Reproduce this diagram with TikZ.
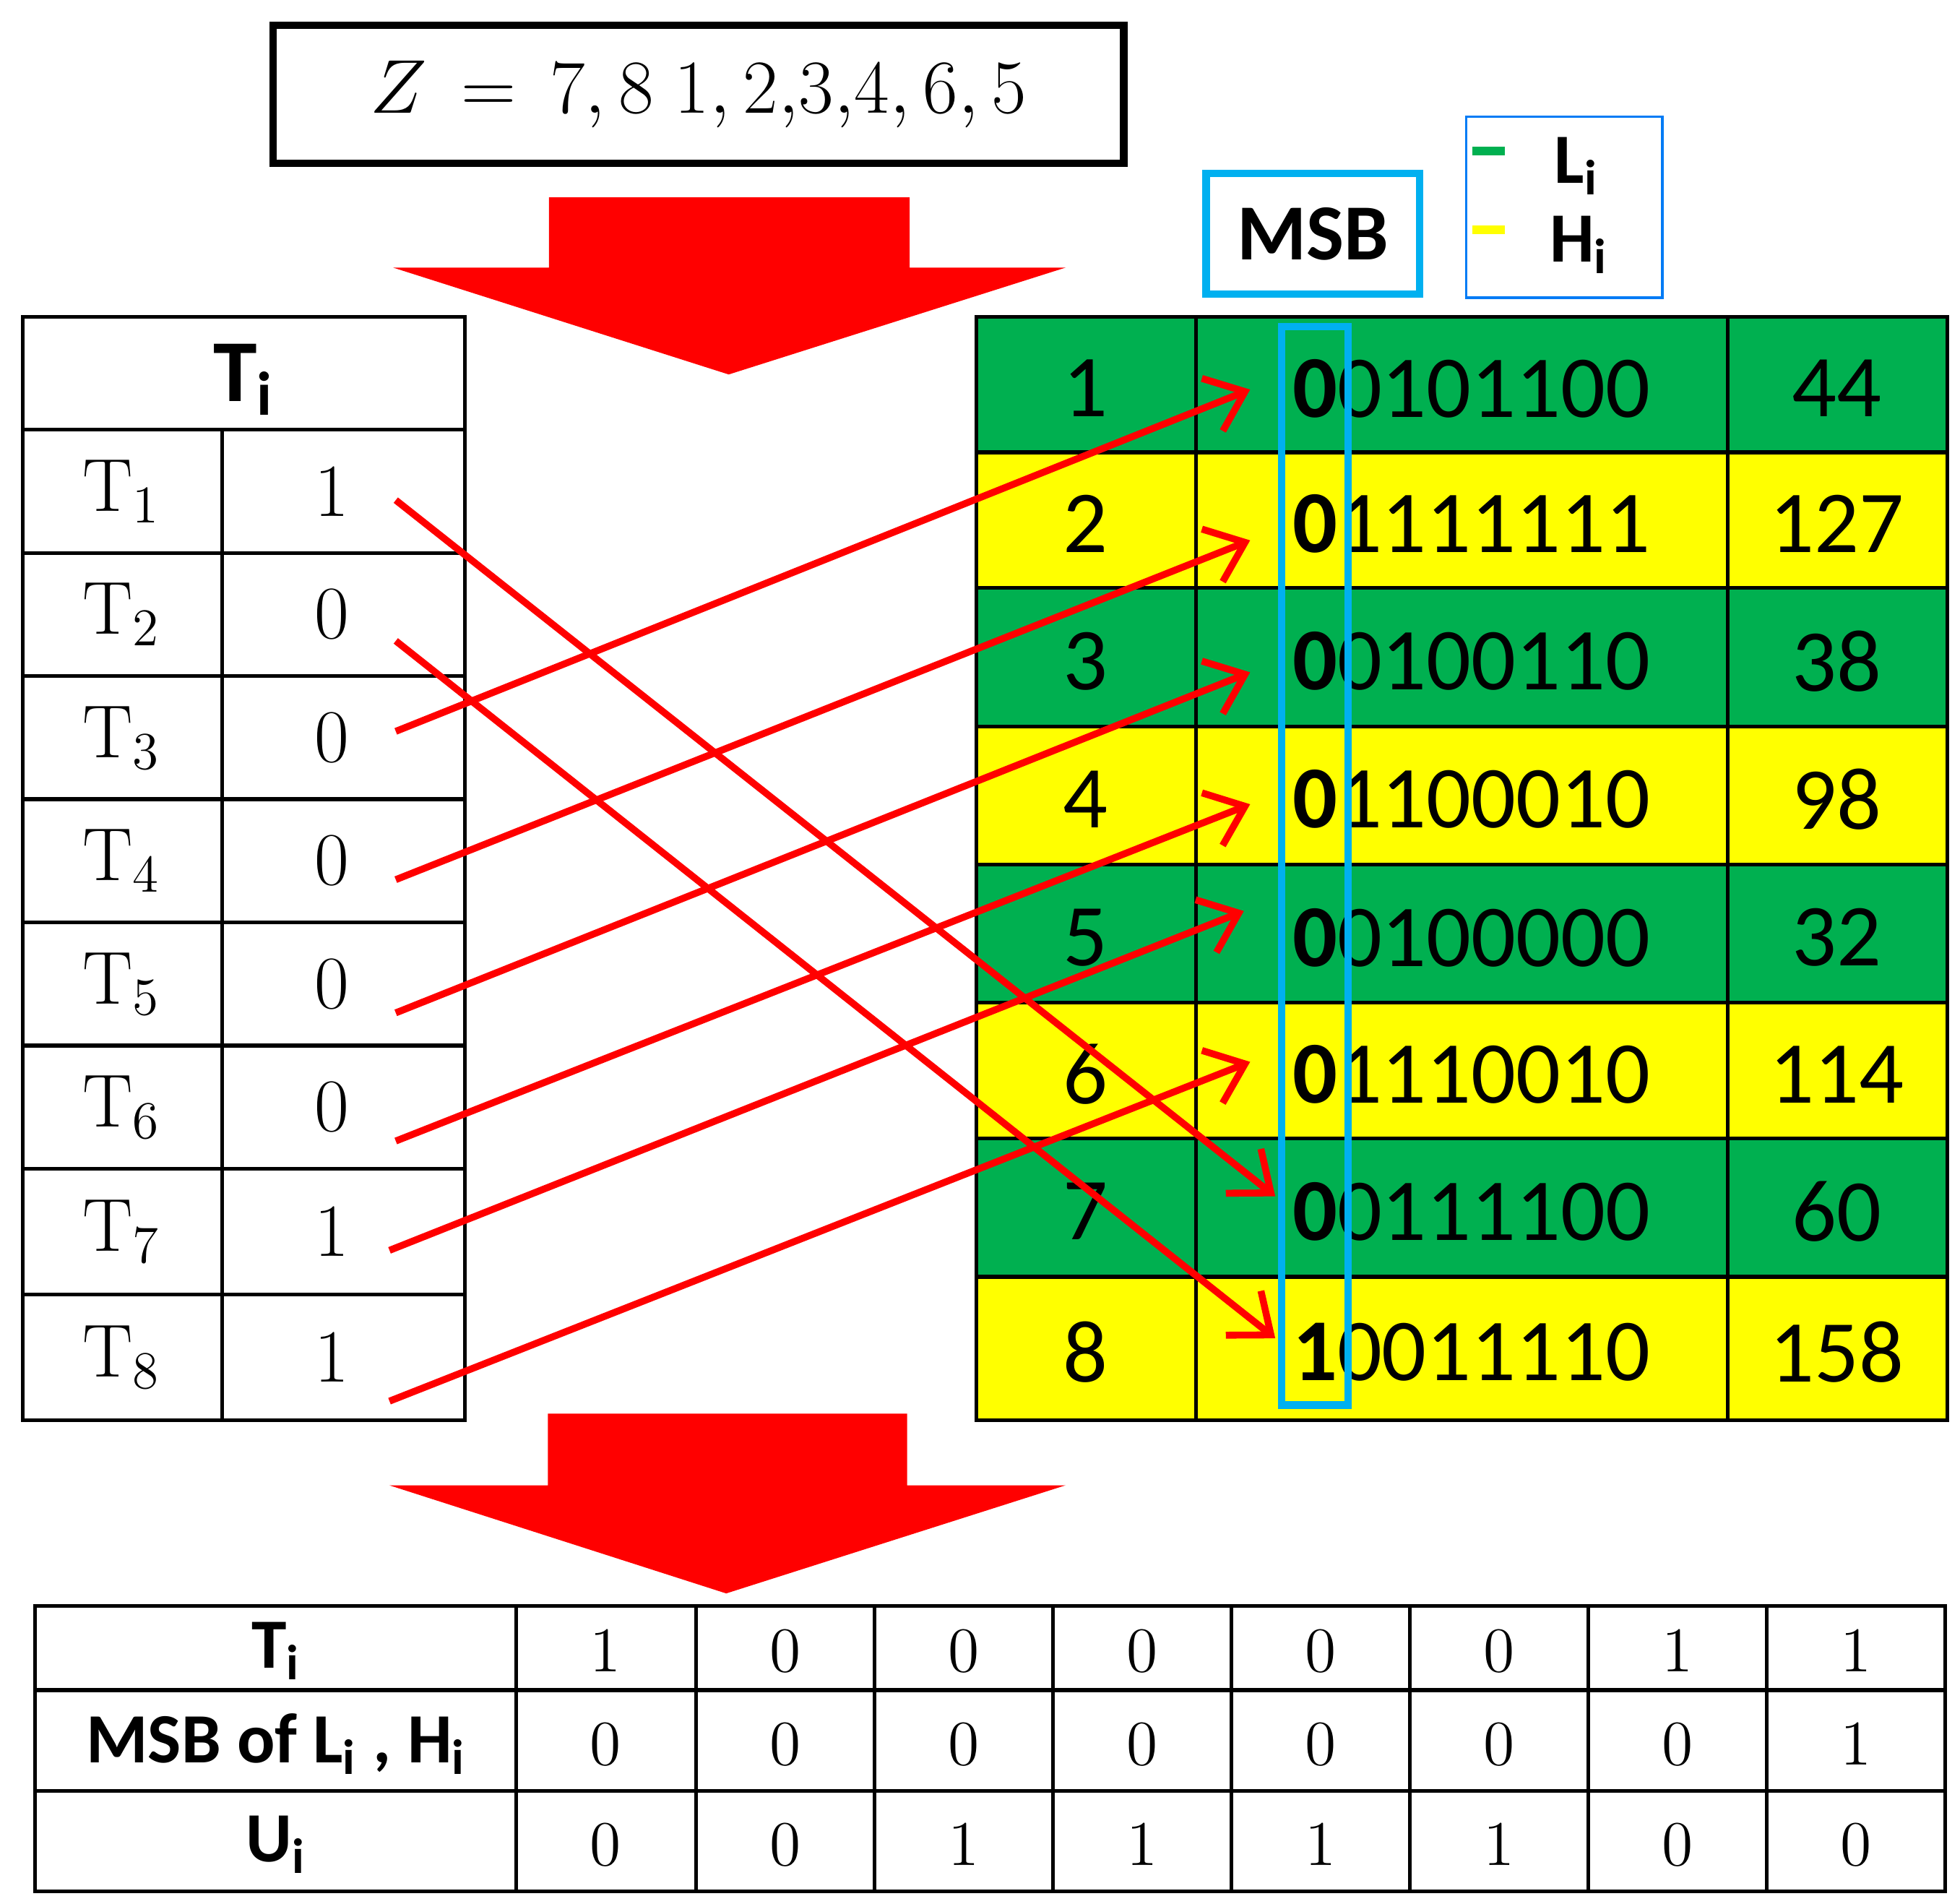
\documentclass[tikz,border=0pt]{standalone}
\usepackage{fontspec}
\setsansfont{Carlito}
\usetikzlibrary{arrows.meta}
\definecolor{gr}{RGB}{0,176,80}
\definecolor{ye}{RGB}{255,255,0}
\definecolor{cy}{RGB}{0,176,240}
\definecolor{rd}{RGB}{255,0,0}
\tikzset{
 grid/.style={line width=0.3mm,draw=black},
 rarrow/.style={draw=rd,line width=0.55mm,-{Straight Barb[length=2.8mm,width=4.5mm,line width=0.55mm]}},
 big/.style={font=\sffamily\fontsize{20}{24}\selectfont},
 lt/.style={font=\fontsize{17}{20}\selectfont},
 bt/.style={font=\fontsize{15}{18}\selectfont},
 bl/.style={font=\sffamily\bfseries\fontsize{16}{19}\selectfont}
}
\begin{document}
\begin{tikzpicture}[x=0.1mm,y=-0.1mm]
\useasboundingbox (0,0) rectangle (1560,1515);
% Z box
\node[draw,line width=0.6mm,minimum width=67.7mm,minimum height=11mm,font=\fontsize{19}{22}\selectfont] (z) at (556,75) {$Z\,=\,7,8\;1,2{,}3{,}4,6,5$};
% arrows
\fill[rd] (437,157) -- (724,157) -- (724,213) -- (848,213) -- (580,298) -- (313,213) -- (437,213) -- cycle;
\fill[rd] (436,1125) -- (722,1125) -- (722,1182) -- (848,1182) -- (578,1268) -- (310,1182) -- (436,1182) -- cycle;
% left table
\draw[grid] (18,252) rectangle (370,1130);
\draw[grid] (18,342) -- (370,342);
\foreach \y in {440,538,636,734,832,930,1030} \draw[grid] (18,\y) -- (370,\y);
\draw[grid] (177,342) -- (177,1130);
\node[bl,font=\sffamily\bfseries\fontsize{20}{22}\selectfont] (lth) at (194,302) {T\textsubscript{i}};
\foreach \k/\yc/\v in {1/391/1,2/489/0,3/587/0,4/685/0,5/783/0,6/881/0,7/980/1,8/1080/1}{
 \node[lt] (lt\k) at (97,\yc) {$\mathrm{T}_{\k}$};
 \node[lt,anchor=east] (lv\k) at (290,\yc) {\v};
}
% right table
\foreach \k/\ya/\yb/\b/\d in {1/252/360/0101100/44,2/360/468/1111111/127,3/468/578/0100110/38,4/578/688/1100010/98,5/688/798/0100000/32,6/798/906/1110010/114,7/906/1016/0111100/60,8/1016/1130/0011110/158}{
 \pgfmathsetmacro{\ym}{(\ya+\yb)/2+3}
 \pgfmathtruncatemacro{\odd}{mod(\k,2)}
 \ifnum\odd=1 \def\fc{gr}\else\def\fc{ye}\fi
 \fill[\fc] (777,\ya) rectangle (1550,\yb);
 \node[big] (rn\k) at (864,\ym) {\k};
 \node[big,anchor=west,inner sep=0pt] (rb\k) at (1028,\ym) {\ifnum\k=8 \textbf{1}\else\textbf{0}\fi\b};
 \node[big] (rd\k) at (1462,\ym) {\d};
}
\draw[grid] (777,252) rectangle (1550,1130);
\foreach \y in {360,468,578,688,798,906,1016} \draw[grid] (777,\y) -- (1550,\y);
\draw[grid] (952,252) -- (952,1130);
\draw[grid] (1375,252) -- (1375,1130);
\draw[cy,line width=0.6mm] (1020,260) rectangle (1073,1118);
% MSB and legend
\node[draw=cy,line width=0.6mm,minimum width=17mm,minimum height=9.6mm,font=\sffamily\bfseries\fontsize{18}{21}\selectfont] (msb) at (1045,186) {MSB};
\draw[cy!70!blue,line width=0.2mm] (1167,93) rectangle (1323,237);
\draw[gr,line width=0.7mm] (1172,120) -- (1198,120);
\draw[ye,line width=0.7mm] (1172,183) -- (1198,183);
\node[bl,font=\sffamily\bfseries\fontsize{16}{18}\selectfont,inner sep=1pt] (li) at (1255,132) {L\textsubscript{i}};
\node[bl,font=\sffamily\bfseries\fontsize{16}{18}\selectfont,inner sep=1pt] (hi) at (1257,195) {H\textsubscript{i}};
% red connectors
\coordinate (s1) at (315,398); \coordinate (e1) at (1015,952);
\coordinate (s2) at (315,510); \coordinate (e2) at (1015,1065);
\coordinate (s3) at (315,582); \coordinate (e3) at (995,310);
\coordinate (s4) at (315,700); \coordinate (e4) at (995,430);
\coordinate (s5) at (315,806); \coordinate (e5) at (995,535);
\coordinate (s6) at (315,908); \coordinate (e6) at (995,640);
\coordinate (s7) at (310,995); \coordinate (e7) at (990,725);
\coordinate (s8) at (310,1115); \coordinate (e8) at (995,845);
\foreach \k in {1,...,8} \draw[rarrow] (s\k) -- (e\k);
% bottom table
\draw[grid] (28,1278) rectangle (1548,1505);
\draw[grid] (28,1345) -- (1548,1345);
\draw[grid] (28,1425) -- (1548,1425);
\foreach \x in {411,554,696,838,980,1122,1264,1406} \draw[grid] (\x,1278) -- (\x,1505);
\node[bl] (b1) at (220,1314) {T\textsubscript{i}};
\node[bl] (b2) at (220,1388) {MSB of L\textsubscript{i} , H\textsubscript{i}};
\node[bl] (b3) at (220,1468) {U\textsubscript{i}};
\foreach \c/\x in {1/482,2/625,3/767,4/909,5/1051,6/1193,7/1335,8/1477}{
 \pgfmathsetmacro{\ta}{{1,0,0,0,0,0,1,1}[\c-1]}
 \pgfmathsetmacro{\tb}{{0,0,0,0,0,0,0,1}[\c-1]}
 \pgfmathsetmacro{\tc}{{0,0,1,1,1,1,0,0}[\c-1]}
 \node[bt] (t\c) at (\x,1314) {\pgfmathprintnumber{\ta}};
 \node[bt] (m\c) at (\x,1388) {\pgfmathprintnumber{\tb}};
 \node[bt] (u\c) at (\x,1468) {\pgfmathprintnumber{\tc}};
}
\end{tikzpicture}
\end{document}
